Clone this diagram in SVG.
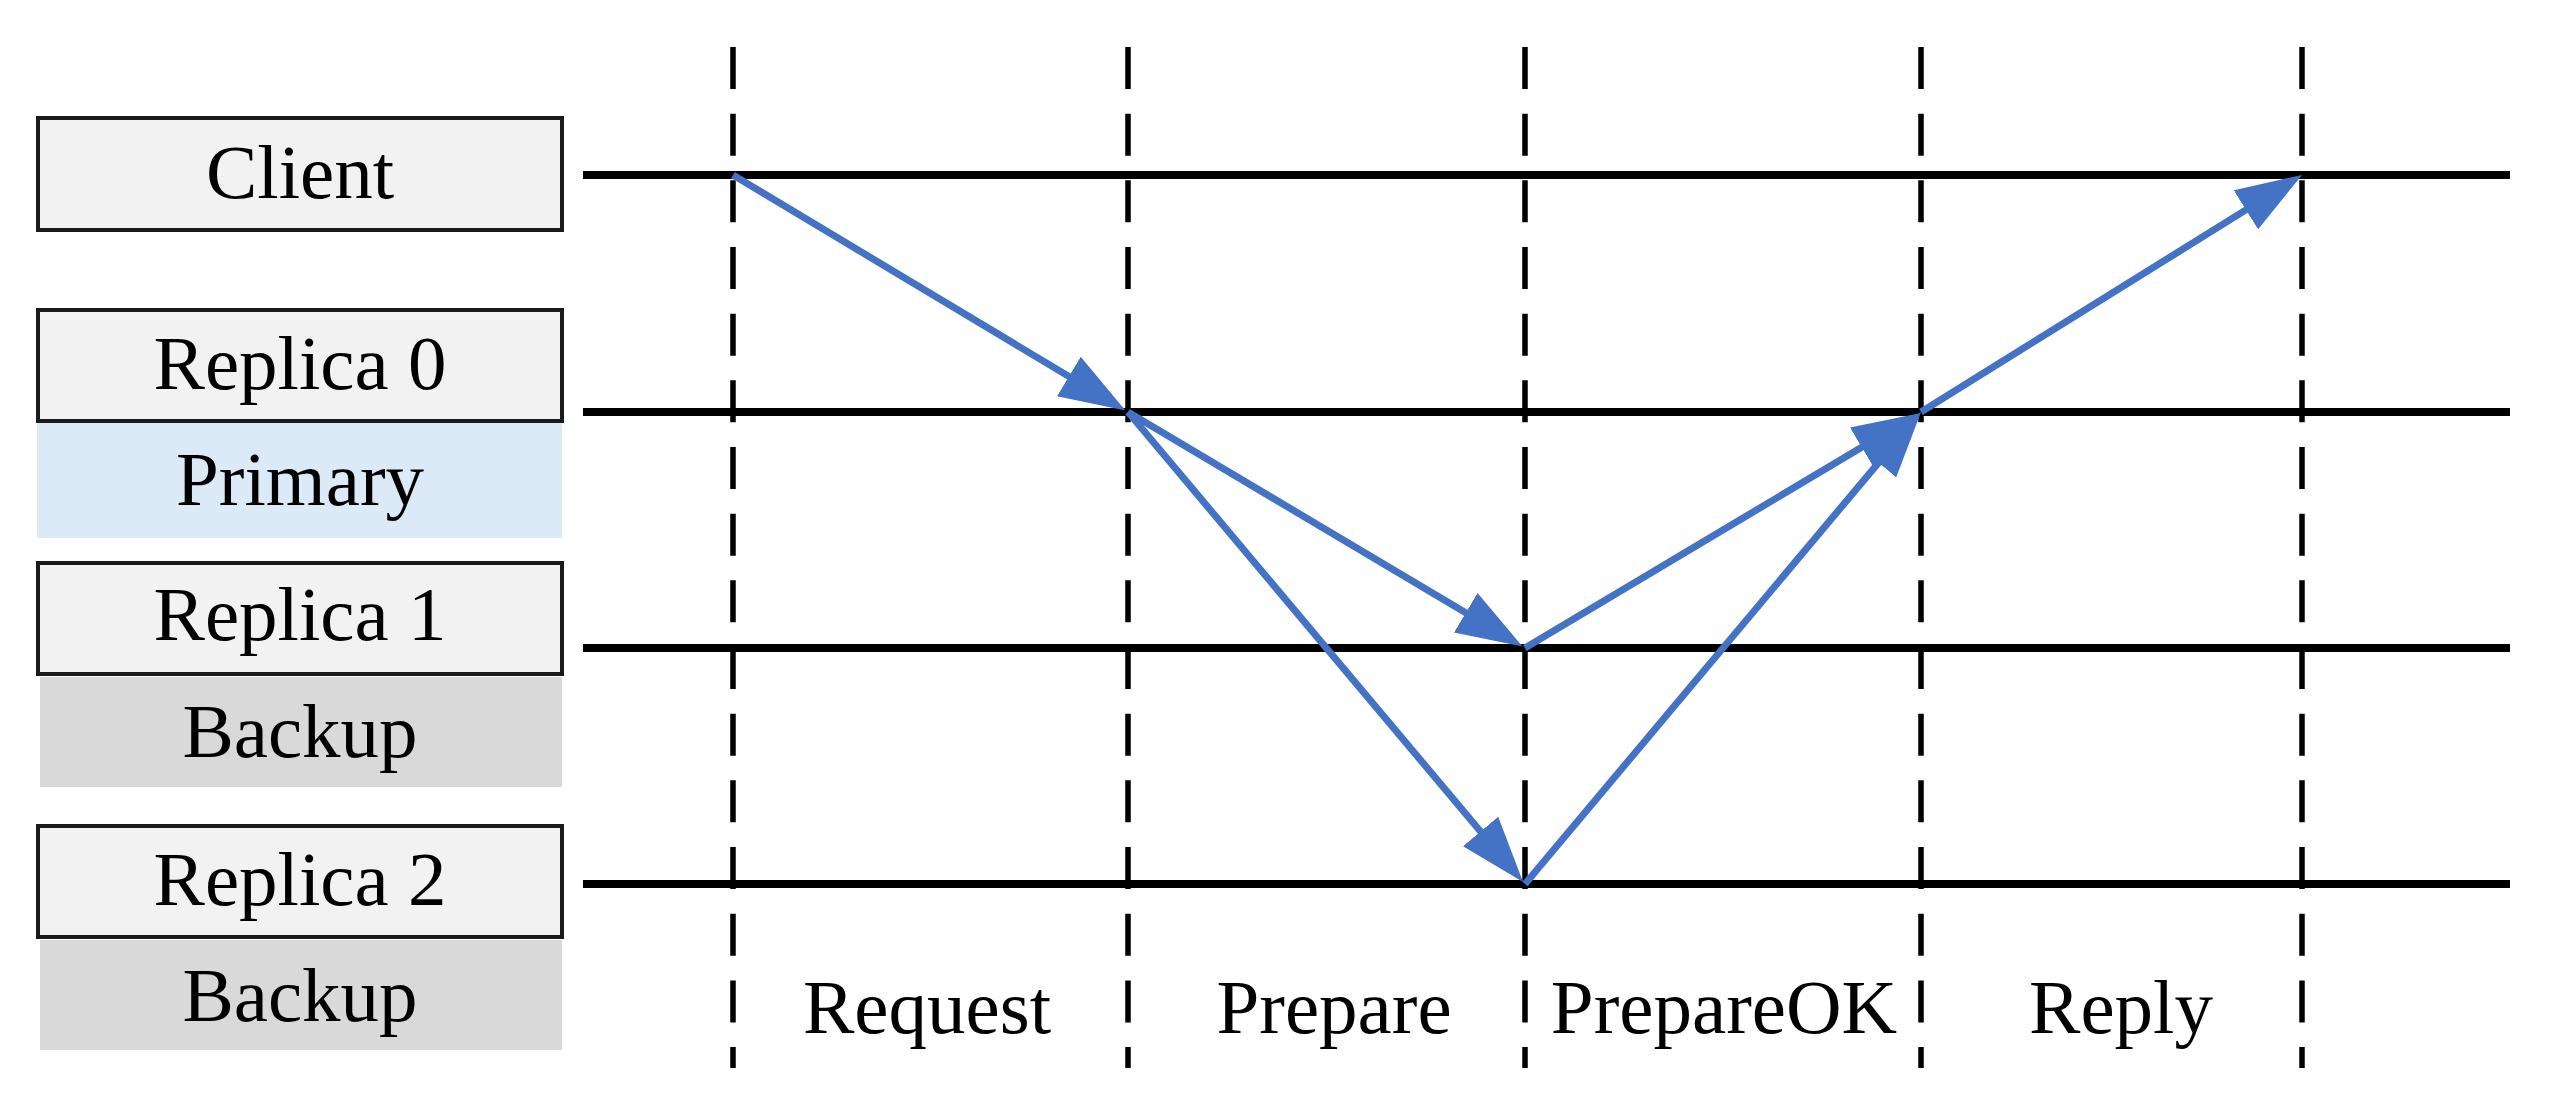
<svg xmlns="http://www.w3.org/2000/svg" width="2550" height="1110" viewBox="0 0 2550 1110">
<style>
.lbl{font-family:"Liberation Serif","Times New Roman",serif;font-size:77px;fill:#000;text-anchor:middle}
.box{fill:#f2f2f2;stroke:#1a1a1a;stroke-width:4}
.prim{fill:#dce9f6}
.back{fill:#d9d9d9}
.life{stroke:#000;stroke-width:8;fill:none}
.dash{stroke:#000;stroke-width:5.5;stroke-dasharray:42 24.67;fill:none}
.msg{stroke:#4472c4;stroke-width:7;fill:none;marker-end:url(#ah)}
</style>
<defs>
<marker id="ah" markerUnits="userSpaceOnUse" markerWidth="66" markerHeight="46" refX="44" refY="23" orient="auto" viewBox="0 0 66 46">
<path d="M0,0 L66,23 L0,46 z" fill="#4472c4"/>
</marker>
</defs>
<rect width="2550" height="1110" fill="#fff"/>
<g id="node-client">
<rect class="box" x="38" y="118" width="524" height="112"/>
<text class="lbl" x="300" y="198">Client</text>
</g>
<g id="node-replica0">
<rect class="box" x="38" y="310" width="524" height="111"/>
<text class="lbl" x="300" y="389">Replica 0</text>
</g>
<g id="node-primary">
<rect class="prim" x="37" y="423" width="525" height="115"/>
<text class="lbl" x="300" y="505">Primary</text>
</g>
<g id="node-replica1">
<rect class="box" x="38" y="563" width="524" height="111"/>
<text class="lbl" x="300" y="640">Replica 1</text>
</g>
<g id="node-backup1">
<rect class="back" x="40" y="677" width="522" height="110"/>
<text class="lbl" x="300" y="757">Backup</text>
</g>
<g id="node-replica2">
<rect class="box" x="38" y="826" width="524" height="111"/>
<text class="lbl" x="300" y="905">Replica 2</text>
</g>
<g id="node-backup2">
<rect class="back" x="40" y="940" width="522" height="110"/>
<text class="lbl" x="300" y="1021">Backup</text>
</g>
<g id="lifelines">
<line class="life" x1="583" y1="175" x2="2510" y2="175"/>
<line class="life" x1="583" y1="412" x2="2510" y2="412"/>
<line class="life" x1="583" y1="648" x2="2510" y2="648"/>
<line class="life" x1="583" y1="884" x2="2510" y2="884"/>
</g>
<g id="phase-dividers">
<line class="dash" x1="733" y1="47" x2="733" y2="1068"/>
<line class="dash" x1="1128" y1="47" x2="1128" y2="1068"/>
<line class="dash" x1="1525" y1="47" x2="1525" y2="1068"/>
<line class="dash" x1="1921" y1="47" x2="1921" y2="1068"/>
<line class="dash" x1="2302" y1="47" x2="2302" y2="1068"/>
</g>
<g id="phase-labels">
<text class="lbl" x="927" y="1033">Request</text>
<text class="lbl" x="1334" y="1033">Prepare</text>
<text class="lbl" x="1724" y="1033">PrepareOK</text>
<text class="lbl" x="2121" y="1033">Reply</text>
</g>
<g id="connectors">
<line class="msg" x1="733" y1="175" x2="1106.6" y2="399.1"/>
<line class="msg" x1="1128" y1="412" x2="1503.6" y2="635.3"/>
<line class="msg" x1="1128" y1="412" x2="1508.9" y2="865.2"/>
<line class="msg" x1="1525" y1="648" x2="1899.5" y2="424.7"/>
<line class="msg" x1="1525" y1="884" x2="1906.9" y2="428.9"/>
<line class="msg" x1="1921" y1="412" x2="2283.3" y2="186.6"/>
</g>
</svg>
